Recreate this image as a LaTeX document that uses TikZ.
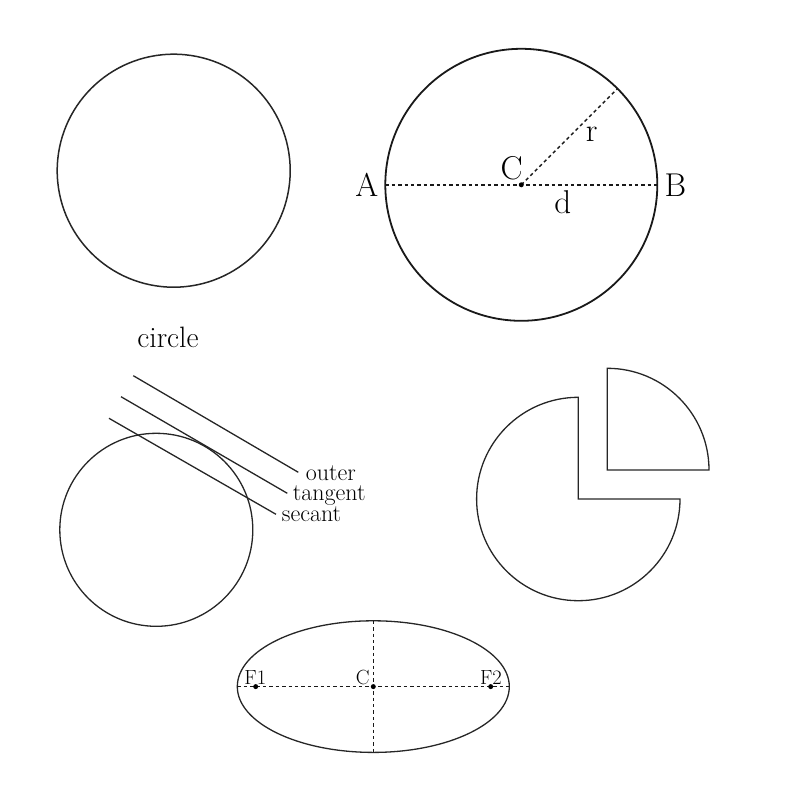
\documentclass[tikz,border=0pt]{standalone}
\usepackage{fontspec}
\usetikzlibrary{calc}
\begin{document}
\begin{tikzpicture}[x=1pt,y=-1pt,
  outl/.style={draw=black!85,line width=1.3pt},
  thickoutl/.style={draw=black!90,line width=1.8pt},
  dotline/.style={draw=black!90,line width=1.5pt,dash pattern=on 3.4pt off 3pt},
  big/.style={inner sep=0pt,font=\fontsize{33}{35}\selectfont},
  mid/.style={inner sep=0pt,font=\fontsize{29.5}{31}\selectfont},
  small/.style={inner sep=0pt,font=\fontsize{24}{26}\selectfont},
  tiny/.style={inner sep=0pt,font=\fontsize{20.5}{22}\selectfont},
  pt/.style={circle,fill=black,inner sep=0pt,minimum size=5pt}]
\useasboundingbox (0,0) rectangle (794,794);

% plain circle
\draw[outl,line width=1.5pt] (173.7,170.7) circle[radius=116.5];
\node[mid] (lblcircle) at (168,337.7) {circle};

% circle with diameter and radius
\coordinate (cc) at (521.3,184.8);
\draw[thickoutl] (cc) circle[radius=136];
\coordinate (pA) at ($(cc)+(-136,0)$);
\coordinate (pB) at ($(cc)+(136,0)$);
\coordinate (pR) at ($(cc)+(96.2,-96.2)$);
\draw[dotline] (pA) -- (pB);
\draw[dotline] (cc) -- (pR);
\node[pt] (ccdot) at (cc) {};
\node[big] (lA) at (366.7,185) {A};
\node[big] (lB) at (675.5,185) {B};
\node[big] (lC) at (511.7,168.3) {C};
\node[big] (lr) at (591.7,134) {r};
\node[big] (ld) at (562.7,201.7) {d};

% circle with lines
\draw[outl] (156.3,529.8) circle[radius=96.5];
\coordinate (o1) at (133.3,375.7);
\coordinate (o2) at (298.3,472.3);
\coordinate (t1) at (121,396.7);
\coordinate (t2) at (287.3,493.3);
\coordinate (s1) at (109,418.3);
\coordinate (s2) at (276,514.3);
\draw[outl] (o1) -- (o2);
\draw[outl] (t1) -- (t2);
\draw[outl] (s1) -- (s2);
\node[small,anchor=base west] (louter) at (305.7,480.7) {outer};
\node[small,anchor=base west] (ltangent) at (292.7,500) {tangent};
\node[small,anchor=base west] (lsecant) at (281.7,521) {secant};

% pie
\coordinate (pc) at (578.3,499);
\draw[outl] (pc) -- ++(0,-101.7) arc[start angle=-90,end angle=-360,radius=101.7] -- cycle;
\coordinate (qc) at (607.3,470);
\draw[outl] (qc) -- ++(101.7,0) arc[start angle=0,end angle=-90,radius=101.7] -- cycle;

% ellipse
\coordinate (ec) at (373.3,686.6);
\draw[outl] (ec) ellipse[x radius=136,y radius=65.8];
\draw[dotline,line width=1.3pt] ($(ec)+(-136,0)$) -- ($(ec)+(136,0)$);
\draw[dotline,line width=1.3pt] ($(ec)+(0,-65.8)$) -- ($(ec)+(0,65.8)$);
\node[pt] (f1) at (255.7,686.6) {};
\node[pt] (f2) at (490.7,686.6) {};
\node[pt] (ecdot) at (ec) {};
\node[tiny,anchor=base] (lF1) at (255.3,684) {F1};
\node[tiny,anchor=base] (lEC) at (362.7,684) {C};
\node[tiny,anchor=base] (lF2) at (491,684) {F2};
\end{tikzpicture}
\end{document}
